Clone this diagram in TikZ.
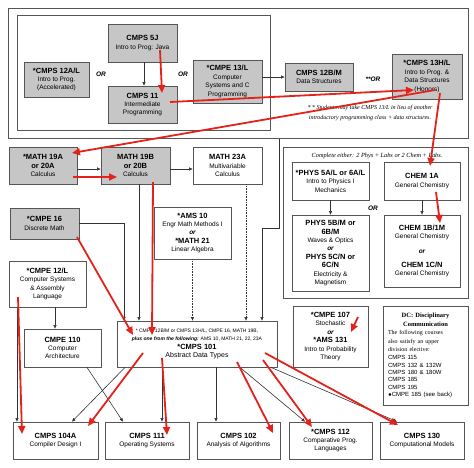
\documentclass[tikz,border=0pt]{standalone}
\usepackage{fontspec}
\setmainfont{Liberation Sans}
\newfontfamily\serifA{Liberation Serif}
\usetikzlibrary{arrows.meta,calc}
\definecolor{bfill}{HTML}{C6C6C6}
\definecolor{bline}{HTML}{555555}
\definecolor{annc}{HTML}{E3231B}
\newcommand{\ttl}[1]{{\fontsize{7.5}{8.4}\selectfont\bfseries #1}}
\newcommand{\orw}{{\bfseries\itshape or}}
\begin{document}
\begin{tikzpicture}[x=1pt,y=-1pt,
 box/.style={draw=bline, line width=0.8pt, fill=white, align=center, inner sep=0pt, font=\fontsize{6.5}{8.4}\selectfont},
 gbox/.style={box, fill=bfill},
 frame/.style={draw=bline, line width=1pt, inner sep=0pt},
 conn/.style={draw=black!80, line width=0.6pt, -{Triangle[length=3.5pt,width=3pt]}},
 dconn/.style={conn, densely dotted},
 ann/.style={draw=annc, line width=1.8pt, -{Triangle[length=8pt,width=7pt]}},
 orlab/.style={font=\fontsize{6.5}{8}\selectfont\bfseries\itshape},
 note/.style={font=\fontsize{6}{10}\selectfont\serifA\itshape, align=center}
]
\useasboundingbox[fill=white] (0,0) rectangle (474,467);
% frames
\node[frame, minimum width=460pt, minimum height=130pt] (topouter) at (238,73) {};
\node[frame, minimum width=253pt, minimum height=115pt] (topinner) at (143.5,72.5) {};
\node[frame, minimum width=185pt, minimum height=151pt] (physframe) at (375.5,222.5) {};
% top row
\node[gbox, minimum width=69pt, minimum height=38pt] (c5j) at (142.5,43) {\ttl{CMPS 5J}\\Intro to Prog: Java};
\node[gbox, minimum width=69pt, minimum height=37pt] (c11) at (142.5,104.5) {\ttl{CMPS 11}\\Intermediate\\Programming};
\node[gbox, minimum width=65pt, minimum height=35pt] (c12al) at (56.5,79.5) {\ttl{*CMPS 12A/L}\\Intro to Prog.\\(Accelerated)};
\node[gbox, minimum width=69pt, minimum height=43pt] (c13l) at (227.5,81.5) {\ttl{*CMPE 13/L}\\Computer\\Systems and C\\Programming};
\node[gbox, minimum width=68pt, minimum height=28pt] (c12bm) at (319,77) {\ttl{CMPS 12B/M}\\Data Structures};
\node[gbox, minimum width=70pt, minimum height=45pt] (c13hl) at (427,76.5) {\ttl{*CMPS 13H/L}\\Intro to Prog. \&\\Data Structures\\(Honors)};
\node[orlab] (or1) at (101,74) {OR};
\node[orlab] (or2) at (183,74) {OR};
\node[orlab] (or3) at (373,79) {**OR};
\node[note] (fn) at (370,113) {* * Students may take CMPS 13/L in lieu of another\\introductory programming class + data structures.};
% math
\node[gbox, minimum width=68pt, minimum height=37pt] (m19a) at (43,165.5) {\ttl{*MATH 19A}\\\ttl{or 20A}\\Calculus};
\node[gbox, minimum width=69pt, minimum height=37pt] (m19b) at (135.5,165.5) {\ttl{MATH 19B}\\\ttl{or 20B}\\Calculus};
\node[box, minimum width=69pt, minimum height=37pt] (m23a) at (227.5,165.5) {\ttl{MATH 23A}\\Multivariable\\Calculus};
\node[gbox, minimum width=69pt, minimum height=31pt] (ce16) at (44.5,223.5) {\ttl{*CMPE 16}\\Discrete Math};
\node[box, minimum width=77pt, minimum height=52pt] (ams10) at (192.5,233) {\ttl{*AMS 10}\\Engr Math Methods I\\\orw\\\ttl{*MATH 21}\\Linear Algebra};
\node[box, minimum width=77pt, minimum height=46pt] (ce12) at (47.5,284) {\ttl{*CMPE 12/L}\\Computer Systems\\\& Assembly\\Language};
\node[box, minimum width=77pt, minimum height=38pt] (ce110) at (62.5,348) {\ttl{CMPE 110}\\Computer\\Architecture};
\node[box, minimum width=160pt, minimum height=46pt] (cs101) at (197,344) {{\fontsize{5}{6}\selectfont * CMPS 12B/M or CMPS 13H/L, CMPE 16, MATH 19B,}\\{\fontsize{5}{6}\selectfont\textbf{\textit{plus one from the following:}} AMS 10, MATH 21, 22, 23A}\\{\fontsize{7.5}{8.5}\selectfont\bfseries *CMPS 101}\\{\fontsize{7}{8.5}\selectfont Abstract Data Types}};
% physics / chemistry
\node[note, font=\fontsize{6.3}{8}\selectfont\serifA\itshape] (cap) at (377,156) {Complete either: 2 Phys + Labs or 2 Chem + Labs.};
\node[box, minimum width=77pt, minimum height=38pt] (phys5a) at (330.5,181) {\ttl{*PHYS 5A/L or 6A/L}\\Intro to Physics I\\Mechanics};
\node[box, minimum width=76pt, minimum height=38pt] (chem1a) at (422,181) {\ttl{CHEM 1A}\\General Chemistry};
\node[orlab] (or4) at (373,208) {OR};
\node[box, minimum width=77pt, minimum height=76pt] (phys5b) at (330.5,253) {\ttl{PHYS 5B/M or}\\\ttl{6B/M}\\Waves \& Optics\\\orw\\\ttl{PHYS 5C/N or}\\\ttl{6C/N}\\Electricity \&\\Magnetism};
\node[box, minimum width=76pt, minimum height=72pt] (chem1b) at (422,251) {\ttl{CHEM 1B/1M}\\General Chemistry\\[6pt]\orw\\[6pt]\ttl{CHEM 1C/N}\\General Chemistry};
\node[box, minimum width=75pt, minimum height=61pt] (ce107) at (330.5,336.5) {\ttl{*CMPE 107}\\Stochastic\\\orw\\\ttl{*AMS 131}\\Intro to Probability\\Theory};
\node[box, minimum width=85pt, minimum height=99pt, text width=75pt, align=left] (dc) at (425.5,355.5) {{\centering\serifA\bfseries\fontsize{6.5}{8.4}\selectfont DC: Disciplinary\\Communication\par}{\serifA\fontsize{6}{8.4}\selectfont The following courses\\also satisfy an upper\\division elective:\par}\vspace{1pt}{\fontsize{6}{7.3}\selectfont CMPS 115\\CMPS 132 \& 132W\\CMPS 180 \& 180W\\CMPS 185\\CMPS 195\\$\bullet$CMPE 185 (see back)\par}};
% bottom row
\node[box, minimum width=85pt, minimum height=37pt] (cs104a) at (55.5,440.5) {\ttl{CMPS 104A}\\Compiler Design I};
\node[box, minimum width=84pt, minimum height=37pt] (cs111) at (147,440.5) {\ttl{CMPS 111}\\Operating Systems};
\node[box, minimum width=83pt, minimum height=37pt] (cs102) at (238.5,440.5) {\ttl{CMPS 102}\\Analysis of Algorithms};
\node[box, minimum width=83pt, minimum height=37pt] (cs112) at (330.5,440.5) {\ttl{*CMPS 112}\\Comparative Prog.\\Languages};
\node[box, minimum width=84pt, minimum height=37pt] (cs130) at (422,440.5) {\ttl{CMPS 130}\\Computational Models};
% black connectors
\draw[conn] ([xshift=1.5pt]c5j.south) -- ([xshift=1.5pt]c5j.south |- c11.north);
\draw[conn] (c13l.east |- c12bm.west) -- (c12bm.west);
\draw[conn] ([yshift=-3.5pt]m19a.east) -- ([yshift=-3.5pt]m19b.west);
\draw[conn] ([yshift=-3.5pt]m19b.east) -- ([yshift=-3.5pt]m23a.west);
\draw[conn] ([xshift=3.5pt]m19b.south) -- ([xshift=3.5pt]m19b.south |- cs101.north);
\draw[conn] (ce16.east) -| ([xshift=-73pt]cs101.north);
\draw[dconn] (ams10.south) -- (ams10.south |- cs101.north);
\draw[dconn] ([xshift=18.5pt]m23a.south) -- ([xshift=18.5pt]m23a.south |- cs101.north);
\draw[conn] ([xshift=41pt]topouter.south) -- ++(0,90) -| ([xshift=65pt]cs101.north);
\draw[conn] (phys5a.south) -- (phys5b.north);
\draw[conn] (chem1a.south) -- (chem1b.north);
\draw[conn] ([xshift=-30.5pt]ce12.south) -- ([xshift=-30.5pt]ce12.south |- cs104a.north);
\draw[conn] ([xshift=7.5pt]ce12.south) -- ([xshift=7.5pt]ce12.south |- ce110.north);
\draw[conn] ([xshift=24.5pt]ce110.south) -- ([xshift=-24pt]cs111.north);
\draw[conn] ([xshift=-72pt]cs101.south) -- ([xshift=16.5pt]cs104a.north);
\draw[conn] ([xshift=-35pt]cs101.south) -- ([xshift=-35pt]cs101.south |- cs111.north);
\draw[conn] ([xshift=19pt]cs101.south) -- ([xshift=19pt]cs101.south |- cs102.north);
\draw[conn] ([xshift=43pt]cs101.south) -- ([xshift=-25.5pt]cs112.north);
\draw[conn] ([xshift=74pt]cs101.south) -- ([xshift=-25pt]cs130.north);
% red annotation arrows
\coordinate (a1) at (160,50);  \coordinate (b1) at (162,93);
\coordinate (a2) at (170,102); \coordinate (b2) at (414,90);
\coordinate (a3) at (435,90);  \coordinate (b3) at (72,153);
\coordinate (a4) at (440,93);  \coordinate (b4) at (430,166);
\coordinate (a5) at (436,192); \coordinate (b5) at (440,223);
\coordinate (a6) at (73,177);  \coordinate (b6) at (117,177);
\coordinate (a7) at (153,182); \coordinate (b7) at (152,335);
\coordinate (a8) at (77,237);  \coordinate (b8) at (133,335);
\coordinate (a9) at (18,297);  \coordinate (b9) at (22,434);
\coordinate (a10) at (143,353); \coordinate (b10) at (88,426);
\coordinate (a11) at (162,358); \coordinate (b11) at (167,435);
\coordinate (a12) at (358,317); \coordinate (b12) at (351,332);
\coordinate (a13) at (237,362); \coordinate (b13) at (273,433);
\coordinate (a14) at (263,360); \coordinate (b14) at (312,427);
\coordinate (a15) at (265,353); \coordinate (b15) at (398,425);
\foreach \i in {1,...,15} {\draw[ann] (a\i) -- (b\i);}
\end{tikzpicture}
\end{document}
